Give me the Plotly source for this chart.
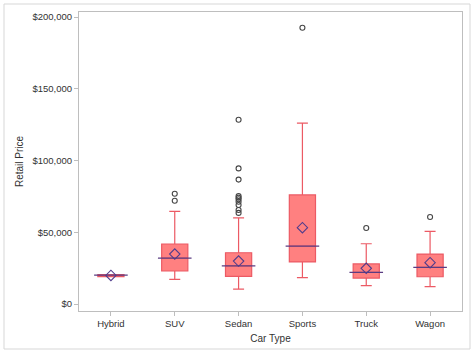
import plotly.graph_objects as go

categories = ["Hybrid", "SUV", "Sedan", "Sports", "Truck", "Wagon"]
q1 = [19110, 23000, 19300, 29300, 18100, 19000]
median = [20140, 31900, 26500, 40400, 22100, 25500]
q3 = [20510, 41800, 35700, 76000, 27900, 34800]
lower_fence = [19110, 17200, 10400, 18350, 12800, 12100]
upper_fence = [20510, 64600, 60000, 126100, 42000, 50600]
means = [19920, 34800, 29900, 53200, 24900, 28800]

outlier_cat = ["SUV", "SUV",
               "Sedan", "Sedan", "Sedan", "Sedan", "Sedan", "Sedan", "Sedan", "Sedan", "Sedan", "Sedan",
               "Sports", "Truck", "Wagon"]
outlier_val = [76870, 72000,
               128420, 94500, 86700, 75200, 74000, 73000, 71300, 69000, 65500, 63500,
               192465, 52975, 60670]

y_tickvals = [0, 50000, 100000, 150000, 200000]
y_ticktext = ["$0", "$50,000", "$100,000", "$150,000", "$200,000"]

fig = go.Figure()
fig.add_trace(go.Box(
    x=categories, q1=q1, median=median, q3=q3,
    lowerfence=lower_fence, upperfence=upper_fence,
    boxpoints=False, width=0.41, whiskerwidth=0.42,
    fillcolor="rgb(255,128,128)",
    line=dict(color="rgb(236,90,100)", width=1.2),
    showlegend=False, hoverinfo="skip",
))
fig.add_trace(go.Scatter(
    x=categories, y=median, mode="markers",
    marker=dict(symbol="line-ew", size=24, line=dict(color="rgb(90,60,130)", width=1.3)),
    showlegend=False, hoverinfo="skip",
))
fig.add_trace(go.Scatter(
    x=categories, y=means, mode="markers",
    marker=dict(symbol="diamond-open", size=8, color="rgb(80,60,140)", line=dict(width=1.1)),
    showlegend=False, hoverinfo="skip",
))
fig.add_trace(go.Scatter(
    x=outlier_cat, y=outlier_val, mode="markers",
    marker=dict(symbol="circle-open", size=5, color="rgb(70,70,70)", line=dict(width=1.1)),
    showlegend=False, hoverinfo="skip",
))

fig.update_layout(
    width=474, height=357,
    margin=dict(l=79, r=12, t=12, b=46, autoexpand=False),
    paper_bgcolor="white", plot_bgcolor="white",
    font=dict(family="Liberation Sans, Arial, sans-serif", size=9, color="rgb(50,50,50)"),
    shapes=[dict(type="rect", xref="paper", yref="paper",
                 x0=-75/383, x1=1 + 8/383, y0=-38/299, y1=1 + 8/299,
                 line=dict(color="rgb(215,215,215)", width=1), fillcolor="rgba(0,0,0,0)", layer="below")],
)
fig.update_xaxes(
    type="category", categoryorder="array", categoryarray=categories,
    range=[-0.5, 5.5], automargin=False,
    showline=True, mirror=True, linecolor="rgb(190,190,190)", linewidth=1,
    ticks="outside", ticklen=4, tickcolor="rgb(190,190,190)",
    showgrid=False, zeroline=False,
    title=dict(text="Car Type", font=dict(size=10), standoff=6),
    tickfont=dict(size=9.5),
)
fig.update_yaxes(
    range=[-4878, 203484], automargin=False,
    tickmode="array", tickvals=y_tickvals, ticktext=y_ticktext,
    showline=True, mirror=True, linecolor="rgb(190,190,190)", linewidth=1,
    ticks="outside", ticklen=4, tickcolor="rgb(190,190,190)",
    showgrid=False, zeroline=False,
    title=dict(text="Retail Price", font=dict(size=10), standoff=6),
    tickfont=dict(size=9.5),
)

fig.write_html(
    "out.html",
    config={"responsive": False, "displayModeBar": False},
    post_script="document.body.style.margin='0';document.body.style.overflow='hidden';"
                "Plotly.relayout(document.getElementById('{plot_id}'), {width:474, height:357});",
)
